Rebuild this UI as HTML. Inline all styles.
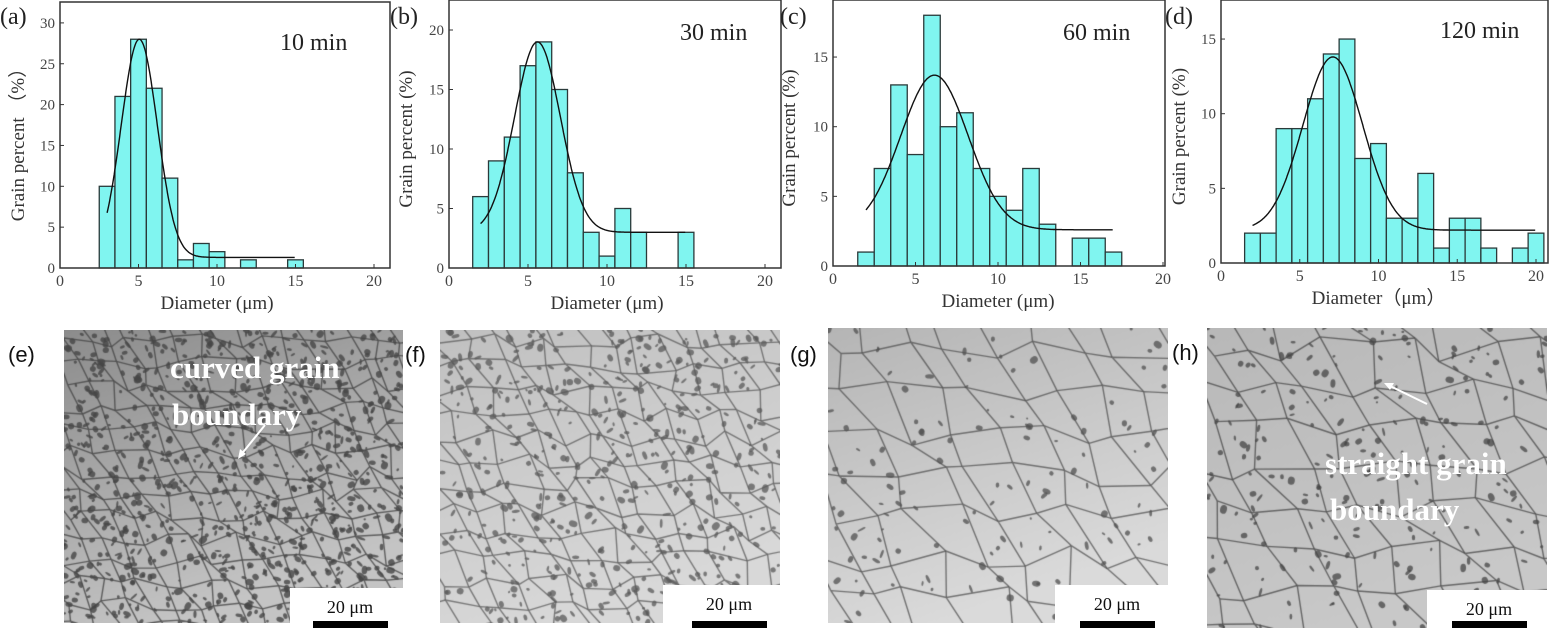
<!DOCTYPE html>
<html><head><meta charset="utf-8">
<style>
html,body{margin:0;padding:0;background:#fff;width:1551px;height:628px;overflow:hidden;position:relative}
canvas{position:absolute}
svg{position:absolute;left:0;top:0}
</style></head>
<body>
<canvas id="pe" style="left:64px;top:330px" width="339" height="293"></canvas>
<canvas id="pf" style="left:440px;top:330px" width="340" height="293"></canvas>
<canvas id="pg" style="left:828px;top:328px" width="340" height="295"></canvas>
<canvas id="ph" style="left:1207px;top:328px" width="340" height="300"></canvas>
<svg id="s" width="1551" height="628" xmlns="http://www.w3.org/2000/svg" font-family="Liberation Serif, serif"></svg>
<script>
var S=document.getElementById('s'),NS='http://www.w3.org/2000/svg';
function el(t,a,txt){var e=document.createElementNS(NS,t);for(var k in a)e.setAttribute(k,a[k]);if(txt!=null)e.textContent=txt;S.appendChild(e);return e;}
function chart(c){
 var X=function(v){return c.x0+(c.x20-c.x0)*v/20},Y=function(v){return c.y0-v*c.py};
 c.bars.forEach(function(b){el('rect',{x:X(b[0]-0.5),y:Y(b[1]),width:X(1)-X(0),height:b[1]*c.py,fill:'#80f5f0',stroke:'#2a3a3a','stroke-width':1.3});});
 el('rect',{x:c.L,y:c.T,width:c.R-c.L,height:c.y0-c.T,fill:'none',stroke:'#333','stroke-width':1.5});
 for(var v=0;v<=20;v+=5){el('line',{x1:X(v),x2:X(v),y1:c.y0,y2:c.y0-4,stroke:'#333'});el('text',{x:X(v),y:c.y0+18,'font-size':16,'text-anchor':'middle',fill:'#444'},v);}
 for(var v=0;v<=c.ymax;v+=5){el('line',{x1:c.L,x2:c.L+4,y1:Y(v),y2:Y(v),stroke:'#333'});el('text',{x:c.L-5,y:Y(v)+5,'font-size':15,'text-anchor':'end',fill:'#444'},v);}
 var d='';for(var x=c.g[3];x<=c.g[4];x+=0.05){var y=c.g[5]+(c.g[0]-c.g[5])*Math.exp(-Math.pow(x-c.g[1],2)/(2*c.g[2]*c.g[2]));d+=(d?'L':'M')+X(x).toFixed(1)+','+Y(y).toFixed(1);}
 el('path',{d:d,fill:'none',stroke:'#111','stroke-width':1.4});
 el('text',{x:c.ylx,y:(c.y0+c.T)/2+5,'font-size':19,'text-anchor':'middle',fill:'#333',transform:'rotate(-90 '+c.ylx+' '+((c.y0+c.T)/2+5)+')'},c.yl);
 el('text',{x:(c.x0+c.x20)/2,y:c.y0+41,'font-size':19,'text-anchor':'middle',fill:'#333'},c.xl);
 el('text',{x:c.tx,y:c.ty,'font-size':24,fill:'#222'},c.t);
 el('text',{x:c.lx,y:24,'font-size':24,fill:'#222'},c.lab);
}
chart({L:60,R:390,T:2,x0:60,x20:374,y0:268,py:8.17,ymax:30,ylx:24,yl:'Grain percent （%）',xl:'Diameter (μm)',t:'10 min',tx:280,ty:50,lab:'(a)',lx:0,
 bars:[[3,10],[4,21],[5,28],[6,22],[7,11],[8,1],[9,3],[10,2],[12,1],[15,1]],g:[28,5.05,1.15,3,15,1.3]});
chart({L:449,R:781,T:0,x0:449,x20:765,y0:268,py:11.9,ymax:20,ylx:412,yl:'Grain percent (%)',xl:'Diameter (μm)',t:'30 min',tx:680,ty:40,lab:'(b)',lx:390,
 bars:[[2,6],[3,9],[4,11],[5,17],[6,19],[7,15],[8,8],[9,3],[10,1],[11,5],[12,3],[15,3]],g:[19,5.6,1.45,2,15,3]});
chart({L:833,R:1165,T:0,x0:833,x20:1163,y0:266,py:13.93,ymax:15,ylx:795,yl:'Grain percent (%)',xl:'Diameter (μm)',t:'60 min',tx:1063,ty:40,lab:'(c)',lx:780,
 bars:[[2,1],[3,7],[4,13],[5,8],[6,18],[7,10],[8,11],[9,7],[10,5],[11,4],[12,7],[13,3],[15,2],[16,2],[17,1]],g:[13.7,6.15,2.05,2,17,2.6]});
chart({L:1221,R:1548,T:0,x0:1221,x20:1536,y0:263,py:14.93,ymax:15,ylx:1185,yl:'Grain percent (%)',xl:'Diameter（μm）',t:'120 min',tx:1440,ty:38,lab:'(d)',lx:1165,
 bars:[[2,2],[3,2],[4,9],[5,9],[6,11],[7,14],[8,15],[9,7],[10,8],[11,3],[12,3],[13,6],[14,1],[15,3],[16,3],[17,1],[19,1],[20,2]],g:[13.8,7.1,1.9,2,20,2.2]});
[['(e)',8,362],['(f)',405,362],['(g)',790,362],['(h)',1172,360]].forEach(function(a){el('text',{x:a[1],y:a[2],'font-size':22,'font-family':'Liberation Sans, sans-serif',fill:'#111'},a[0]);});
[[290,588,113,40,313],[663,585,117,40,692],[1055,585,113,40,1080],[1427,590,120,40,1452]].forEach(function(b){
 el('rect',{x:b[0],y:b[1],width:b[2],height:b[3],fill:'#fff'});
 el('text',{x:b[4]+37,y:b[1]+25,'font-size':18,'text-anchor':'middle',fill:'#111'},'20 μm');
 el('rect',{x:b[4],y:621,width:75,height:7,fill:'#000'});});
function wt(t,x,y){el('text',{x:x,y:y,'font-size':31,'font-weight':'bold',fill:'#fff'},t);}
wt('curved grain',170,378);wt('boundary',172,425);
el('line',{x1:265,y1:425,x2:240,y2:456,stroke:'#fff','stroke-width':2});
el('path',{d:'M238,459 l2,-10 l6,5 z',fill:'#fff'});
wt('straight grain',1325,474);wt('boundary',1330,520);
el('line',{x1:1427,y1:404,x2:1388,y2:385,stroke:'#fff','stroke-width':2});
el('path',{d:'M1384,383 l10,0 l-4,7 z',fill:'#fff'});
function rnd(seed){return function(){seed=(seed*16807)%2147483647;return seed/2147483647;}}
function photo(id,bg,cell,spots,dark,seed,grad){
 var c=document.getElementById(id),x=c.getContext('2d'),W=c.width,H=c.height,r=rnd(seed);
 var g=x.createLinearGradient(0,0,W*0.3,H);g.addColorStop(0,grad[0]);g.addColorStop(1,grad[1]);x.fillStyle=g;x.fillRect(0,0,W,H);
 var nx=Math.ceil(W/cell)+2,ny=Math.ceil(H/cell)+2,P=[];
 for(var j=0;j<ny;j++){P[j]=[];for(var i=0;i<nx;i++)P[j][i]=[(i-0.5+ (j%2)*0.5)*cell+(r()-0.5)*cell*0.7,(j-0.5)*cell+(r()-0.5)*cell*0.7];}
 x.strokeStyle=dark;x.lineWidth=1.4;
 for(var j=0;j<ny;j++)for(var i=0;i<nx;i++){var p=P[j][i];x.beginPath();
  if(i+1<nx){x.moveTo(p[0],p[1]);x.lineTo(P[j][i+1][0],P[j][i+1][1]);}
  if(j+1<ny){var k=(j%2)?Math.min(i+1,nx-1):i;x.moveTo(p[0],p[1]);x.lineTo(P[j+1][k][0],P[j+1][k][1]);}
  x.stroke();}
 x.fillStyle=dark;
 for(var n=0;n<spots;n++){x.beginPath();x.ellipse(r()*W,r()*H,1+r()*3.5,1+r()*2.5,r()*3,0,7);x.fill();}
}
photo('pe','#b0b0b0',22,900,'rgba(70,70,70,0.8)',7,['#8c8c8c','#c4c4c4']);
photo('pf','#c8c8c8',24,500,'rgba(90,90,90,0.75)',11,['#c0c0c0','#d8d8d8']);
photo('pg','#cfcfcf',42,120,'rgba(80,80,80,0.75)',5,['#b5b5b5','#dadada']);
photo('ph','#bbb',40,220,'rgba(70,70,70,0.75)',3,['#b8b8b8','#c8c8c8']);
</script>
</body></html>
